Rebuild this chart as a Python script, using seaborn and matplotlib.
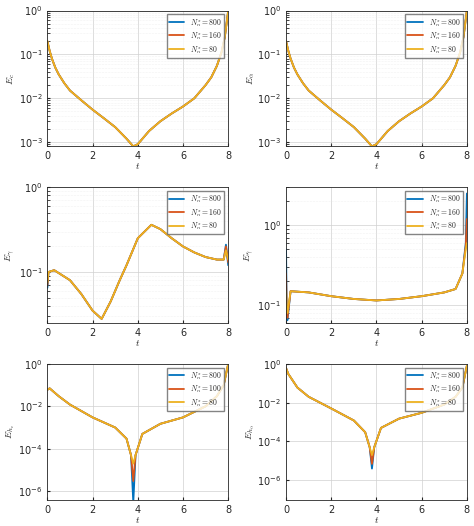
import numpy as np
import pandas as pd
import matplotlib
matplotlib.use("Agg")
import matplotlib.pyplot as plt
import matplotlib.ticker as mticker
import seaborn as sns

sns.set_style("ticks")
plt.rcParams["font.family"] = ["DejaVu Sans"]
plt.rcParams["mathtext.fontset"] = "cm"

# ---------------- data ----------------
x1 = [0, 0.1, 0.2, 0.35, 0.5, 0.75, 1, 1.5, 2, 2.5, 3, 3.5, 3.8, 4, 4.5, 5, 5.5, 6, 6.5, 7, 7.25, 7.5, 7.7, 7.85, 8]
y1 = [0.2, 0.12, 0.08, 0.05, 0.035, 0.022, 0.015, 0.009, 0.0055, 0.0035, 0.0022, 0.0012, 0.0008,
      0.0009, 0.0018, 0.0030, 0.0045, 0.0065, 0.010, 0.02, 0.03, 0.055, 0.11, 0.25, 1.0]

x3 = [0, 0.05, 0.3, 1, 1.5, 2, 2.4, 2.8, 3.2, 3.5, 4, 4.6, 5, 5.5, 6, 6.5, 7, 7.5, 7.8, 7.9, 8]
y3_800 = [0.065, 0.1, 0.105, 0.08, 0.055, 0.035, 0.028, 0.045, 0.08, 0.12, 0.25,
          0.36, 0.32, 0.25, 0.2, 0.17, 0.15, 0.14, 0.14, 0.21, 0.12]
y3_160 = [0.07, 0.1, 0.105, 0.08, 0.055, 0.035, 0.028, 0.045, 0.08, 0.12, 0.25,
          0.36, 0.32, 0.25, 0.2, 0.17, 0.15, 0.14, 0.14, 0.2, 0.13]
y3_80 = [0.075, 0.1, 0.105, 0.08, 0.055, 0.035, 0.028, 0.045, 0.08, 0.12, 0.25,
         0.36, 0.32, 0.25, 0.2, 0.17, 0.15, 0.14, 0.14, 0.18, 0.14]

x4 = [0, 0.03, 0.06, 0.2, 1, 2, 3, 4, 5, 6, 7, 7.5, 7.8, 7.95, 8]
y4_800 = [0.5, 0.07, 0.065, 0.15, 0.145, 0.13, 0.12, 0.115, 0.12, 0.13, 0.145, 0.16, 0.25, 0.6, 2.5]
y4_160 = [0.25, 0.08, 0.07, 0.15, 0.145, 0.13, 0.12, 0.115, 0.12, 0.13, 0.145, 0.16, 0.25, 0.55, 1.2]
y4_80 = [0.15, 0.09, 0.08, 0.15, 0.145, 0.13, 0.12, 0.115, 0.12, 0.13, 0.145, 0.16, 0.25, 0.5, 0.6]

x5 = [0, 0.1, 0.5, 1, 2, 3, 3.5, 3.7, 3.8, 3.9, 4.2, 5, 6, 7, 7.5, 7.8, 8]
y5_800 = [0.06, 0.07, 0.03, 0.012, 0.003, 0.001, 0.0003, 0.00005, 3e-7, 0.00005, 0.0005, 0.0015, 0.003, 0.01, 0.03, 0.1, 1.0]
y5_160 = [0.06, 0.07, 0.03, 0.012, 0.003, 0.001, 0.0003, 0.00005, 3e-6, 0.00005, 0.0005, 0.0015, 0.003, 0.01, 0.03, 0.1, 1.0]
y5_80 = [0.06, 0.07, 0.03, 0.012, 0.003, 0.001, 0.0003, 0.00005, 2e-5, 0.00005, 0.0005, 0.0015, 0.003, 0.01, 0.03, 0.1, 1.0]

x6 = [0, 0.1, 0.5, 1, 2, 3, 3.5, 3.7, 3.8, 3.9, 4.2, 5, 6, 7, 7.5, 7.8, 8]
y6_800 = [0.6, 0.3, 0.06, 0.02, 0.005, 0.0012, 0.0003, 0.00005, 4e-6, 0.00005, 0.0005, 0.0015, 0.003, 0.008, 0.02, 0.06, 0.8]
y6_160 = [0.6, 0.3, 0.06, 0.02, 0.005, 0.0012, 0.0003, 0.00005, 7e-6, 0.00005, 0.0005, 0.0015, 0.003, 0.008, 0.02, 0.06, 0.8]
y6_80 = [0.6, 0.3, 0.06, 0.02, 0.005, 0.0012, 0.0003, 0.00005, 2e-5, 0.00005, 0.0005, 0.0015, 0.003, 0.008, 0.02, 0.06, 0.8]

labels = [r"$N_n^s=800$", r"$N_n^s=160$", r"$N_n^s=80$"]
labels5 = [r"$N_n^s=800$", r"$N_n^s=100$", r"$N_n^s=80$"]
colors = ["#0072BD", "#D95319", "#EDB120"]

panels = [
    (x1, [y1, y1, y1], r"$E_c$", (8e-4, 1), labels, 1),
    (x1, [y1, y1, y1], r"$E_\alpha$", (8e-4, 1), labels, 1),
    (x3, [y3_800, y3_160, y3_80], r"$E_\gamma$", (0.025, 1), labels, 1),
    (x4, [y4_800, y4_160, y4_80], r"$E_{\tilde\gamma}$", (0.06, 3), labels, 1),
    (x5, [y5_800, y5_160, y5_80], r"$E_{h_c}$", (4e-7, 1), labels5, 2),
    (x6, [y6_800, y6_160, y6_80], r"$E_{h_\alpha}$", (1e-7, 1), labels, 2),
]

fig, axes = plt.subplots(3, 2, figsize=(4.74, 5.26), dpi=100)

for ax, (xs, ys, ylab, ylim, labs, step) in zip(axes.flat, panels):
    for y, lab, c in zip(ys, labs, colors):
        df = pd.DataFrame({"x": xs, "y": y})
        sns.lineplot(data=df, x="x", y="y", ax=ax, color=c, lw=1.3, label=lab)
    ax.set_yscale("log")
    ax.set_xlim(0, 8)
    ax.set_ylim(*ylim)
    ax.set_xticks([0, 2, 4, 6, 8])
    if step == 2:
        ax.yaxis.set_major_locator(mticker.FixedLocator([1e-6, 1e-4, 1e-2, 1]))
    ax.grid(True, which="major", color="#d0d0d0", lw=0.5)
    ax.grid(True, which="minor", color="#e6e6e6", lw=0.4, ls=":")
    ax.set_xlabel(r"$t$", fontsize=7, labelpad=0)
    ax.set_ylabel(ylab, fontsize=7, labelpad=1)
    ax.tick_params(labelsize=7, length=2, direction="in", which="both")
    for s in ax.spines.values():
        s.set_linewidth(0.6)
    ax.legend(fontsize=5.5, loc="upper right", frameon=True, fancybox=False,
              edgecolor="#666666", handlelength=2, borderpad=0.3, labelspacing=0.2)

fig.subplots_adjust(left=0.1, right=0.985, top=0.98, bottom=0.05, wspace=0.32, hspace=0.3)
fig.savefig("out.png", dpi=100)
